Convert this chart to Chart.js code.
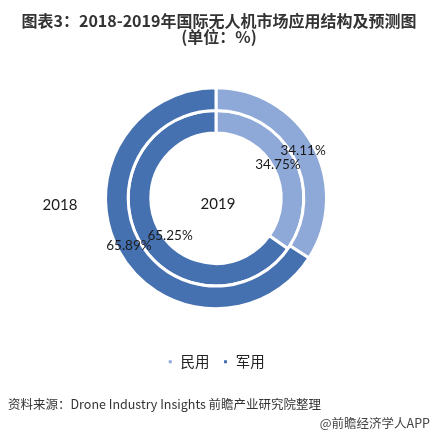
<!DOCTYPE html>
<html>
<head>
<meta charset="utf-8">
<script src="https://cdn.jsdelivr.net/npm/chart.js@4.4.0/dist/chart.umd.min.js"></script>
<style>
  body { margin: 0; background: #fff; }
  #wrap { position: relative; width: 438px; height: 436px; overflow: hidden; }
  #chart { position: absolute; left: 0; top: 0; }
  .txt { position: absolute; white-space: nowrap; font-family: "Noto Sans CJK SC", sans-serif; }
  #title { left: 0; width: 438px; top: 12px; text-align: center; font-size: 16px; font-weight: bold; color: #333; line-height: 16px; }
  #source { left: 8px; top: 394px; font-size: 12.5px; color: #333; }
  #credit { right: 8px; top: 413px; font-size: 12.5px; color: #444; }
</style>
</head>
<body>
<div id="wrap">
  <canvas id="chart" width="438" height="436"></canvas>
  <div id="title" class="txt">图表3：2018-2019年国际无人机市场应用结构及预测图<br>(单位：%)</div>
  <div id="source" class="txt">资料来源：Drone Industry Insights 前瞻产业研究院整理</div>
  <div id="credit" class="txt">@前瞻经济学人APP</div>
</div>
<script>
const categories = ['民用', '军用'];
const years = ['2018', '2019'];
const share2018 = [34.11, 65.89];
const share2019 = [34.75, 65.25];

const colors = ['#8EA9D8', '#4571B1'];
// small tweaks so labels sit where the original put them
const labelNudge = [[[0, 0], [0, 0]], [[-6, 2], [22, 2]]];

const labelPlugin = {
    id: 'ringLabels',
    afterDatasetsDraw(chart) {
        const ctx = chart.ctx;
        ctx.save();
        ctx.fillStyle = '#1a1a1a';
        ctx.textAlign = 'center';
        ctx.textBaseline = 'middle';
        ctx.font = '13.5px Lato';
        chart.data.datasets.forEach((ds, i) => {
            const meta = chart.getDatasetMeta(i);
            meta.data.forEach((arc, j) => {
                const p = arc.getProps(['x', 'y', 'startAngle', 'endAngle', 'innerRadius', 'outerRadius']);
                const a = (p.startAngle + p.endAngle) / 2;
                const r = (p.innerRadius + p.outerRadius) / 2;
                const n = labelNudge[i][j];
                ctx.fillText(ds.data[j].toFixed(2) + '%', p.x + Math.cos(a) * r + n[0], p.y + Math.sin(a) * r + n[1]);
            });
        });
        // year names: inner ring in the middle, outer ring to the left
        const c = chart.getDatasetMeta(0).data[0];
        ctx.font = '15px Lato';
        ctx.fillText(chart.data.datasets[1].label, c.x + 2, c.y + 6);
        ctx.fillText(chart.data.datasets[0].label, c.x - 156, c.y + 7);
        ctx.restore();
    }
};

new Chart(document.getElementById('chart'), {
    type: 'doughnut',
    data: {
        labels: categories,
        datasets: [
            { label: years[0], data: share2018, backgroundColor: colors, borderColor: '#fff', borderWidth: 3 },
            { label: years[1], data: share2019, backgroundColor: colors, borderColor: '#fff', borderWidth: 3 }
        ]
    },
    options: {
        responsive: false,
        animation: false,
        cutout: '59%',
        layout: { padding: { left: 104, right: 110, top: 55, bottom: 57 } },
        plugins: {
            tooltip: { enabled: false },
            title: { display: false },
            legend: {
                position: 'bottom',
                labels: {
                    boxWidth: 6,
                    boxHeight: 6,
                    padding: 13,
                    color: '#222',
                    font: { family: '"Noto Sans CJK SC"', size: 14.5 }
                }
            }
        }
    },
    plugins: [labelPlugin]
});
</script>
</body>
</html>
